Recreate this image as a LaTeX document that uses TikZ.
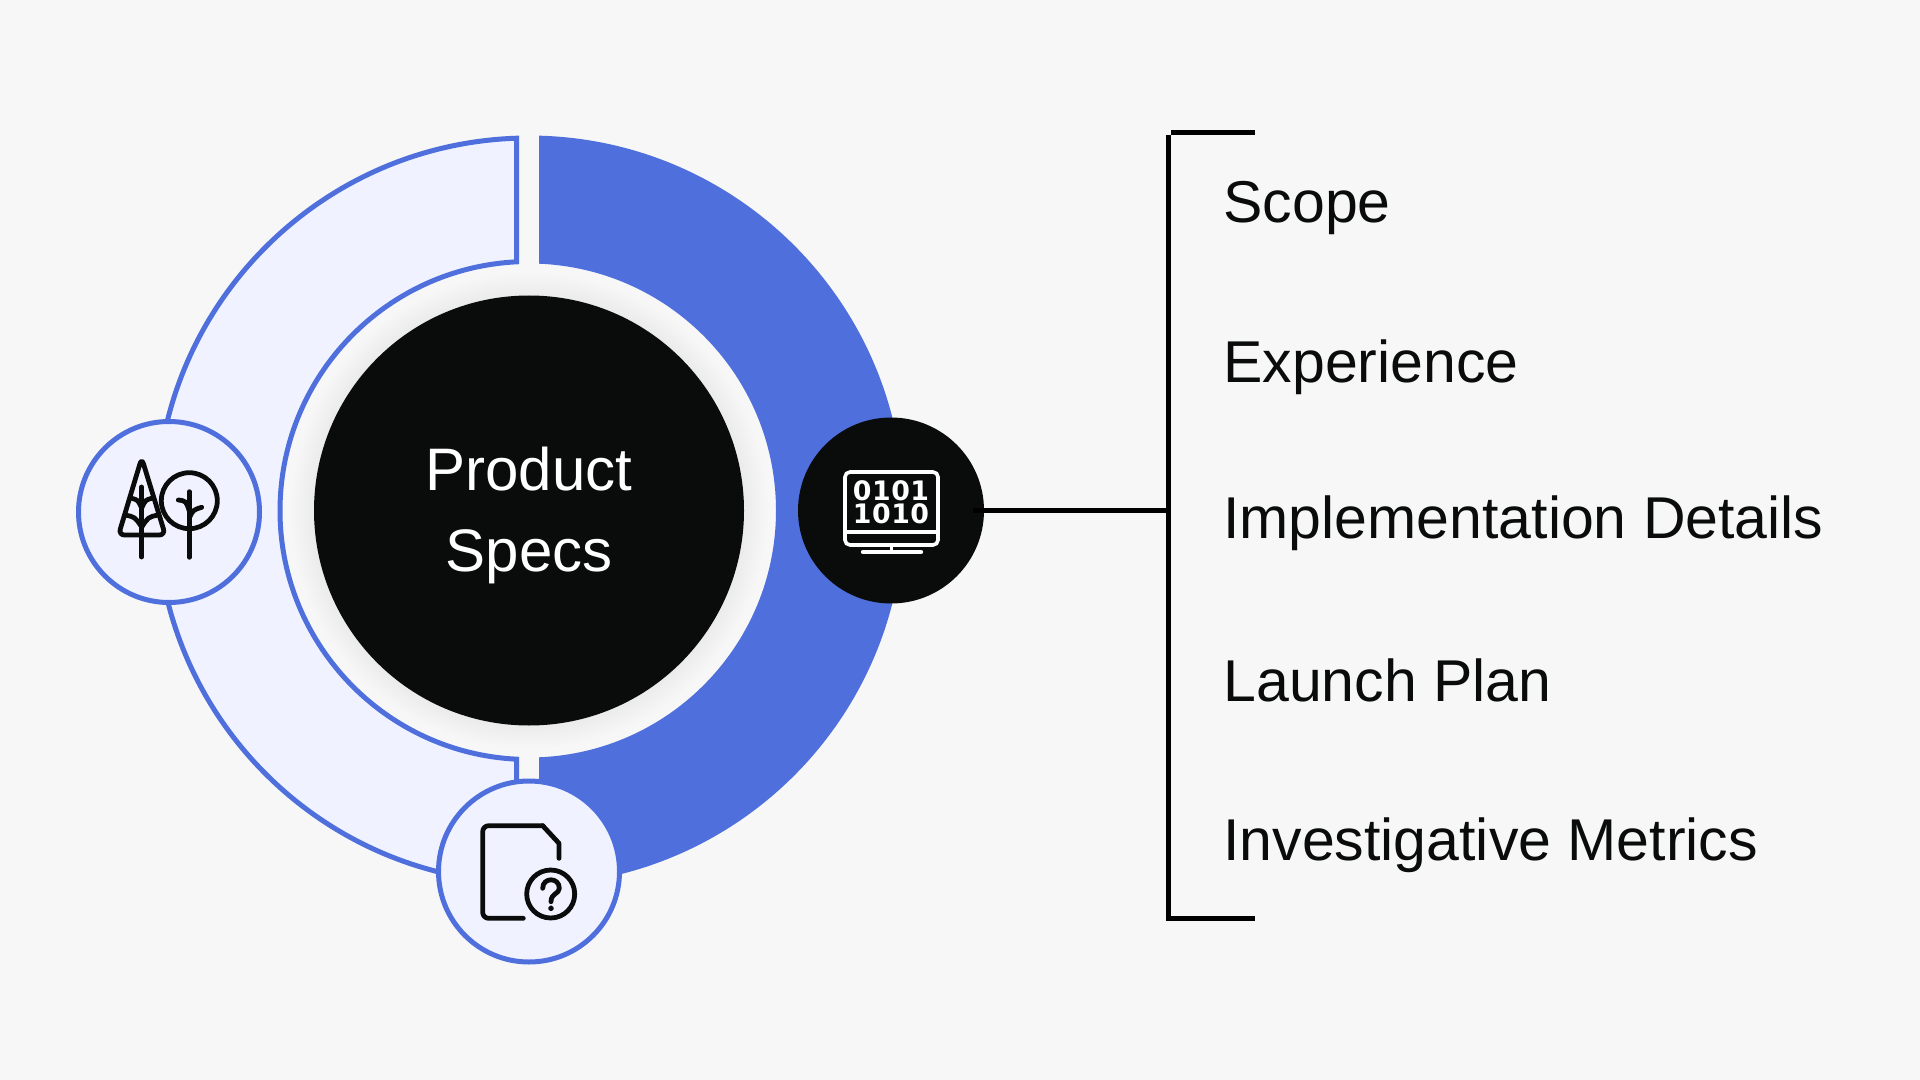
\documentclass[tikz,border=0pt]{standalone}
\usepackage{fontspec}
\setmainfont{Liberation Sans}
\newfontfamily\bitfont[BoldFont={DejaVu Sans Bold}, LetterSpace=2]{DejaVu Sans}
\definecolor{pagegrey}{HTML}{F7F7F7}
\definecolor{ringblue}{HTML}{4F6FDC}
\definecolor{ringpale}{HTML}{F0F3FF}
\definecolor{inkblack}{HTML}{0A0C0B}
\begin{document}
\begin{tikzpicture}
[
    x=.5pt, y=-.5pt,
    ringoutline/.style={draw=ringblue, line width=2.5pt, fill=ringpale},
    iconcircle/.style={circle, draw=ringblue, line width=2.5pt, fill=ringpale, minimum size=90.5pt, inner sep=0pt},
    iconline/.style={draw=inkblack, line width=2.4pt, line cap=round, line join=round},
    monitorline/.style={draw=white, line width=1.8pt, line cap=round},
    bitrows/.style={text=white, align=center, inner sep=0pt, font=\bitfont\bfseries\fontsize{13.4}{11.8}\selectfont},
    barline/.style={draw=black, line width=2.5pt},
    itemlabel/.style={anchor=base west, inner sep=0pt, text=inkblack, font=\fontsize{29.5}{29.5}\selectfont},
]
\useasboundingbox [fill=pagegrey] (0,0) rectangle (1920,1080);

\coordinate (ringcentre) at (529,510.5);

\fill [ringblue] ([shift={(-88.47:375)}]ringcentre) arc [start angle=-88.47, end angle=88.47, radius=375]
    -- ([shift={(87.68:247)}]ringcentre) arc [start angle=87.68, end angle=-87.68, radius=247] -- cycle;
\path [ringoutline] ([shift={(268.08:372.5)}]ringcentre) arc [start angle=268.08, end angle=91.92, radius=372.5]
    -- ([shift={(92.88:249)}]ringcentre) arc [start angle=92.88, end angle=267.12, radius=249] -- cycle;

\foreach \shadowr in {216,218,...,238}
    \fill [black, opacity=.005] (ringcentre) circle [radius=\shadowr];

\node [circle, fill=inkblack, minimum size=215pt, inner sep=0pt] (specs) at (ringcentre) {};
\node [text=white, align=center, font=\fontsize{30}{40.5}\selectfont] (specslabel) at (529,515.5) {Product\\Specs};

\node [iconcircle] (treecircle) at (169,512) {};
\node [iconcircle] (doccircle) at (529,871.5) {};
\node [circle, fill=inkblack, minimum size=93pt, inner sep=0pt] (bitcircle) at (891,510.5) {};

\draw [iconline, rounded corners=3pt] (141.7,458) -- (165.3,535) -- (118.5,535) -- cycle;
\draw [iconline] (141.7,487) -- (141.7,557);
\draw [iconline] (131.7,498.3) .. controls (138,500) .. (141.7,508);
\draw [iconline] (151.7,498.3) .. controls (145.4,500) .. (141.7,508);
\draw [iconline] (125,515) .. controls (135,517) .. (141.7,527);
\draw [iconline] (158.3,515) .. controls (148.4,517) .. (141.7,527);
\draw [iconline] (189.3,500.7) circle [radius=28];
\draw [iconline] (189.3,491.7) -- (189.3,557.3);
\draw [iconline] (178.3,500) .. controls (186,501) .. (189.3,511);
\draw [iconline] (201.7,507.3) .. controls (193,510) .. (189.3,518);

\draw [iconline, rounded corners=3pt] (523.3,918.3) -- (482.7,918.3) -- (482.7,825.7) -- (542.7,825.7);
\draw [iconline] (542.7,825.7) -- (559,843.3) -- (559,858.3);
\draw [iconline] (550.7,894) circle [radius=24];
\draw [iconline] (542.7,888.3) .. controls (542.7,877) and (559.3,877) .. (559.3,888.3)
    .. controls (559.3,894) and (551,893) .. (551,901.7);
\draw [iconline, line width=1.2pt] (551,908.3) circle [radius=1.8];

\draw [monitorline, rounded corners=2.5pt] (845,472) rectangle (938,545);
\draw [monitorline, line cap=butt] (845,531.7) -- (938,531.7);
\draw [monitorline, line cap=butt] (891.5,545) -- (891.5,552);
\draw [monitorline, line width=2.2pt] (863,552) -- (921,552);
\node [bitrows] (bits) at (891,502.3) {0101\\1010};

\coordinate (bartop) at (1168.5,135);
\coordinate (barjoin) at (1168.5,510.5);
\coordinate (barbottom) at (1168.5,916);
\coordinate (barcapupper) at (1255,132.5);
\coordinate (barcaplower) at (1255,918.5);

\draw [barline] (bartop) -- (barbottom);
\draw [barline] (1171,132.5) -- (barcapupper);
\draw [barline] (1166,918.5) -- (barcaplower);
\draw [barline] ([xshift=-5.5pt]bitcircle.east) -- (barjoin);

\node [itemlabel] (scope) at (1223,223) {Scope};
\node [itemlabel] (experience) at (1223,382) {Experience};
\node [itemlabel] (details) at (1223,538) {Implementation Details};
\node [itemlabel] (launch) at (1223,701) {Launch Plan};
\node [itemlabel] (metrics) at (1223,860) {Investigative Metrics};
\end{tikzpicture}
\end{document}
